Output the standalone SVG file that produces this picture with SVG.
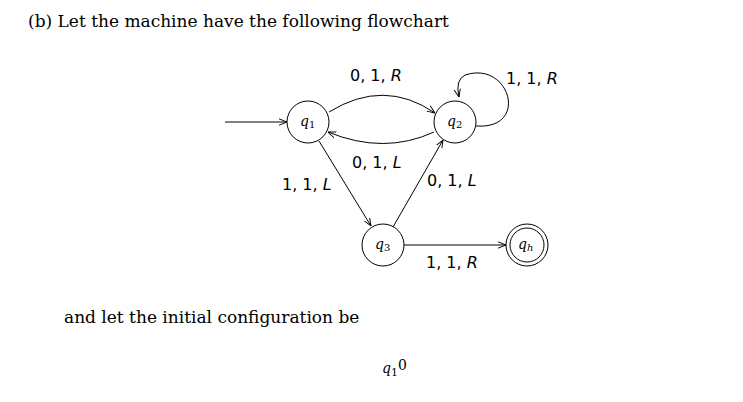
<svg xmlns="http://www.w3.org/2000/svg" width="743" height="402" viewBox="0 0 743 402">
<defs>
<marker id="ar" viewBox="0 0 10 10" refX="10" refY="5" markerWidth="8" markerHeight="8" orient="auto" markerUnits="userSpaceOnUse"><path d="M0,1 L10,5 L0,9" fill="none" stroke="#000" stroke-width="1.2"/></marker>
</defs>
<style>
.n{fill:#fff;stroke:#000;stroke-width:1}
.e{fill:none;stroke:#000;stroke-width:1;marker-end:url(#ar)}
.t{font-family:"DejaVu Serif","Liberation Serif",serif;font-size:17px}
.l{font-family:"DejaVu Sans","Liberation Sans",sans-serif;font-size:16px}
.q{font-family:"DejaVu Serif",serif;font-style:italic;font-size:14px}
</style>
<rect width="743" height="402" fill="#fff"/>
<text class="t" x="28" y="27">(b) Let the machine have the following flowchart</text>
<text class="t" x="64" y="323">and let the initial configuration be</text>
<text class="q" x="382" y="373">q<tspan font-size="11" font-style="normal" dy="3">1</tspan><tspan font-size="14" font-style="normal" dy="-6">0</tspan></text>
<g id="connectors">
<line class="e" x1="225" y1="122" x2="287" y2="122"/>
<path class="e" d="M329,112 Q384,78 435,113"/>
<path class="e" d="M434,132 Q384,155 328,132"/>
<line class="e" x1="319" y1="141" x2="371" y2="226"/>
<line class="e" x1="393" y1="227" x2="443" y2="140"/>
<path class="e" d="M476,126 C530,130 510,60 465,75 Q455,80 459,97"/>
<line class="e" x1="404" y1="245" x2="506" y2="245"/>
<text class="l" x="350" y="81">0, 1, <tspan font-style="italic">R</tspan></text>
<text class="l" x="352" y="168">0, 1, <tspan font-style="italic">L</tspan></text>
<text class="l" x="282" y="190">1, 1, <tspan font-style="italic">L</tspan></text>
<text class="l" x="427" y="186">0, 1, <tspan font-style="italic">L</tspan></text>
<text class="l" x="506" y="84">1, 1, <tspan font-style="italic">R</tspan></text>
<text class="l" x="426" y="268">1, 1, <tspan font-style="italic">R</tspan></text>
</g>
<g id="q1"><circle class="n" cx="308" cy="122" r="21"/><text class="q" x="300" y="126">q<tspan font-size="10" font-style="normal" dy="2">1</tspan></text></g>
<g id="q2"><circle class="n" cx="455" cy="122" r="21"/><text class="q" x="447" y="126">q<tspan font-size="10" font-style="normal" dy="2">2</tspan></text></g>
<g id="q3"><circle class="n" cx="383" cy="245" r="21"/><text class="q" x="375" y="249">q<tspan font-size="10" font-style="normal" dy="2">3</tspan></text></g>
<g id="qh"><circle class="n" cx="527" cy="245" r="21"/><circle class="n" cx="527" cy="245" r="17"/><text class="q" x="518" y="249">q<tspan font-size="10" dy="2">h</tspan></text></g>
</svg>
